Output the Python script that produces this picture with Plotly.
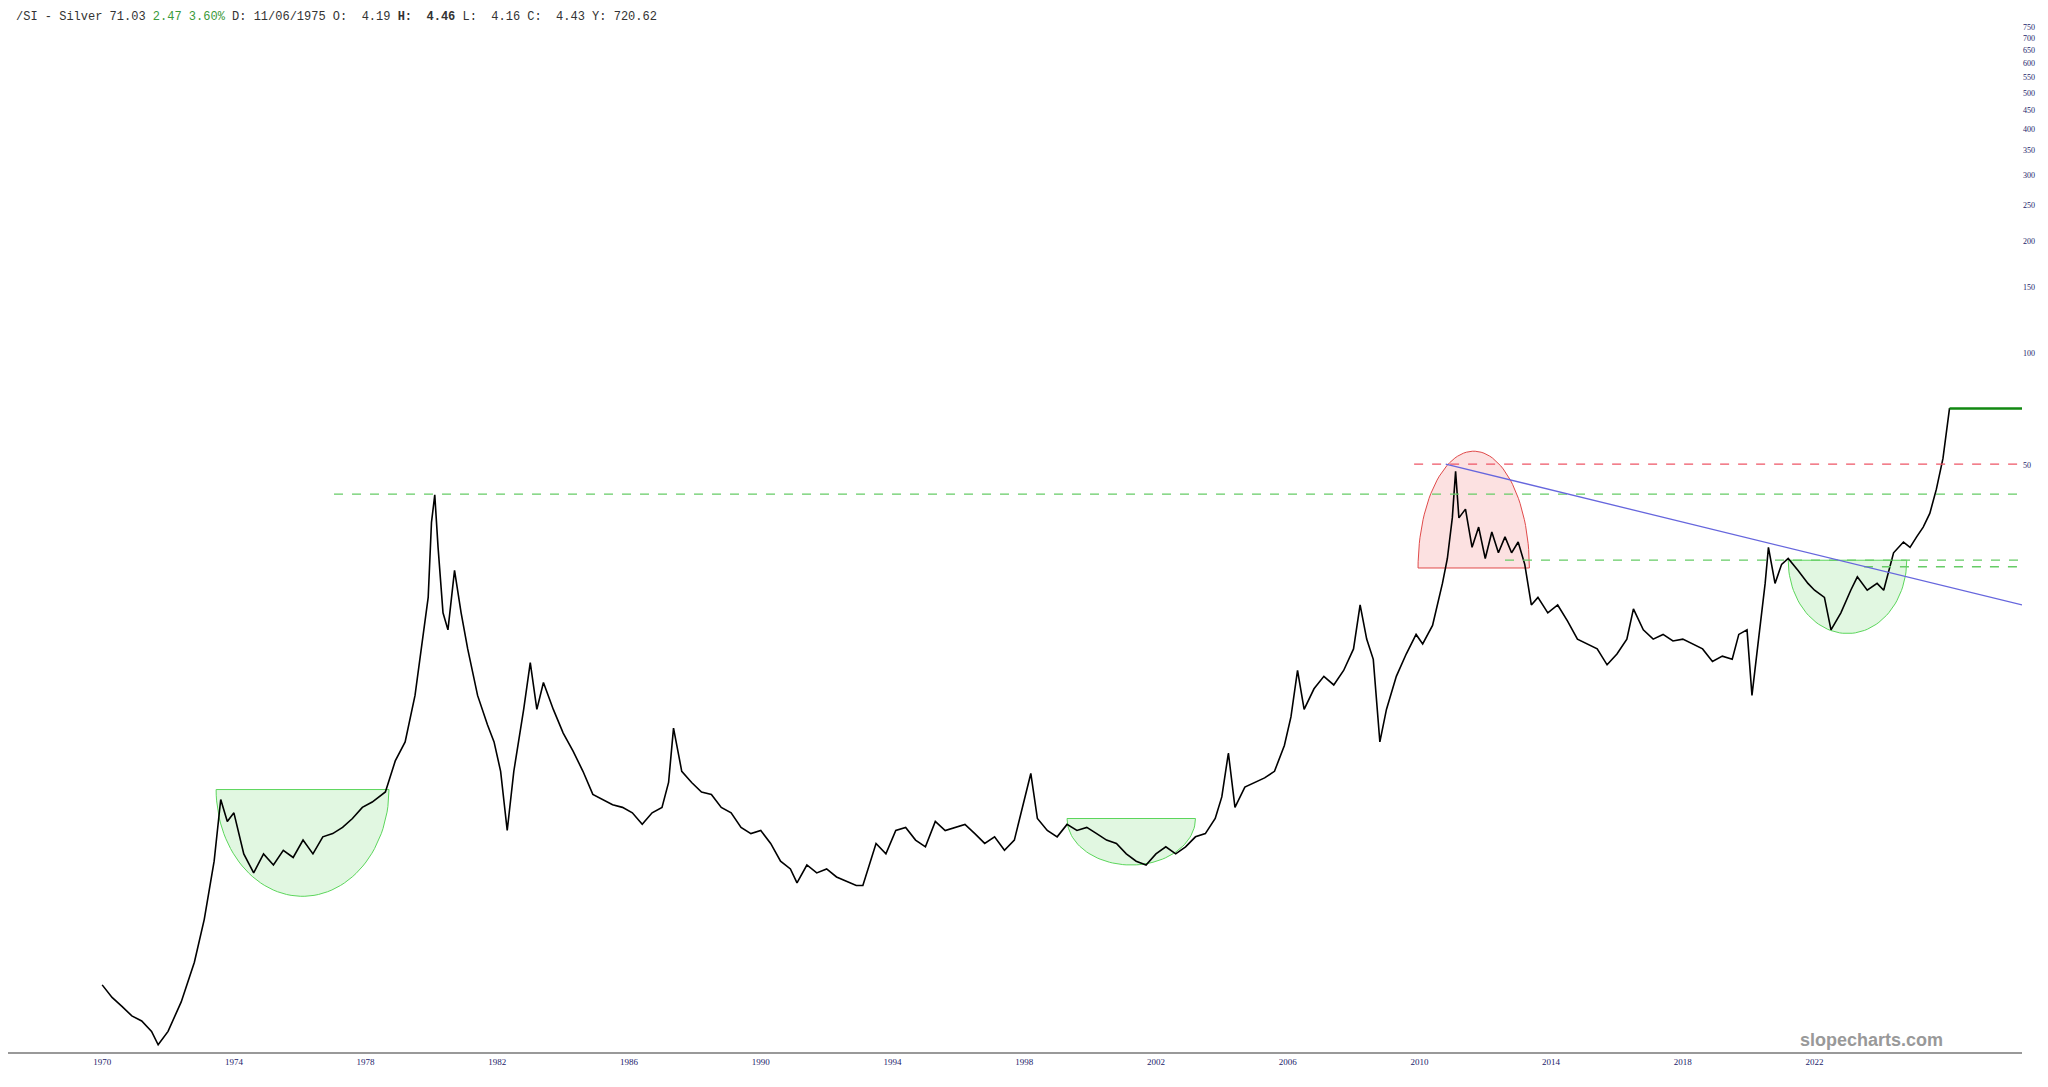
import numpy as np
import plotly.graph_objects as go

# chart-year positions and silver prices
years = [1970.0, 1970.3, 1970.6, 1970.9, 1971.2, 1971.5, 1971.7, 1972.0, 1972.4, 1972.8,
         1973.1, 1973.4, 1973.6, 1973.8, 1974.0, 1974.3, 1974.6, 1974.9, 1975.2, 1975.5,
         1975.8, 1976.1, 1976.4, 1976.7, 1977.0, 1977.3, 1977.6, 1977.9, 1978.2, 1978.6,
         1978.9, 1979.2, 1979.5, 1979.7, 1979.9, 1980.0, 1980.1, 1980.2, 1980.35, 1980.5,
         1980.7, 1980.9, 1981.1, 1981.4, 1981.7, 1981.9, 1982.1, 1982.3, 1982.5, 1982.8,
         1983.0, 1983.2, 1983.4, 1983.7, 1984.0, 1984.3, 1984.6, 1984.9, 1985.2, 1985.5,
         1985.8, 1986.1, 1986.4, 1986.7, 1987.0, 1987.2, 1987.35, 1987.6, 1987.9, 1988.2,
         1988.5, 1988.8, 1989.1, 1989.4, 1989.7, 1990.0, 1990.3, 1990.6, 1990.9, 1991.1,
         1991.4, 1991.7, 1992.0, 1992.3, 1992.6, 1992.9, 1993.1, 1993.3, 1993.5, 1993.8,
         1994.1, 1994.4, 1994.7, 1995.0, 1995.3, 1995.6, 1995.9, 1996.2, 1996.5, 1996.8,
         1997.1, 1997.4, 1997.7, 1998.0, 1998.2, 1998.4, 1998.7, 1999.0, 1999.3, 1999.6,
         1999.9, 2000.2, 2000.5, 2000.8, 2001.1, 2001.4, 2001.7, 2002.0, 2002.3, 2002.6,
         2002.9, 2003.2, 2003.5, 2003.8, 2004.0, 2004.2, 2004.4, 2004.7, 2005.0, 2005.3,
         2005.6, 2005.9, 2006.1, 2006.3, 2006.5, 2006.8, 2007.1, 2007.4, 2007.7, 2008.0,
         2008.2, 2008.4, 2008.6, 2008.8, 2009.0, 2009.3, 2009.6, 2009.9, 2010.1, 2010.4,
         2010.7, 2010.85, 2011.0, 2011.1, 2011.2, 2011.4, 2011.6, 2011.8, 2012.0, 2012.2,
         2012.4, 2012.6, 2012.8, 2013.0, 2013.2, 2013.4, 2013.6, 2013.9, 2014.2, 2014.5,
         2014.8, 2015.1, 2015.4, 2015.7, 2016.0, 2016.3, 2016.5, 2016.8, 2017.1, 2017.4,
         2017.7, 2018.0, 2018.3, 2018.6, 2018.9, 2019.2, 2019.5, 2019.7, 2019.95, 2020.1,
         2020.3, 2020.5, 2020.6, 2020.8, 2021.0, 2021.2, 2021.5, 2021.8, 2022.0, 2022.3,
         2022.5, 2022.8, 2023.1, 2023.3, 2023.6, 2023.9, 2024.1, 2024.4, 2024.7, 2024.9,
         2025.1, 2025.3, 2025.5, 2025.7, 2025.9, 2026.0, 2026.1]
prices = [2.0, 1.85, 1.75, 1.65, 1.6, 1.5, 1.38, 1.5, 1.8, 2.3,
          3.0, 4.3, 6.3, 5.5, 5.8, 4.5, 4.0, 4.5, 4.2, 4.6,
          4.4, 4.9, 4.5, 5.0, 5.1, 5.3, 5.6, 6.0, 6.2, 6.6,
          8.0, 9.0, 12, 16, 22, 35, 41.5, 30, 20, 18,
          26, 20, 16, 12, 10, 9, 7.5, 5.2, 7.5, 11,
          14.7, 11, 13, 11, 9.5, 8.5, 7.5, 6.5, 6.3, 6.1,
          6.0, 5.8, 5.4, 5.8, 6.0, 7.0, 9.8, 7.5, 7.0, 6.6,
          6.5, 6.0, 5.8, 5.3, 5.1, 5.2, 4.8, 4.3, 4.1, 3.76,
          4.2, 4.0, 4.1, 3.9, 3.8, 3.7, 3.7, 4.2, 4.8, 4.5,
          5.2, 5.3, 4.9, 4.7, 5.5, 5.2, 5.3, 5.4, 5.1, 4.8,
          5.0, 4.6, 4.9, 6.3, 7.4, 5.6, 5.2, 5.0, 5.4, 5.2,
          5.3, 5.1, 4.9, 4.8, 4.5, 4.3, 4.2, 4.5, 4.7, 4.5,
          4.7, 5.0, 5.1, 5.6, 6.4, 8.4, 6.0, 6.8, 7.0, 7.2,
          7.5, 8.8, 10.5, 14.0, 11.0, 12.5, 13.5, 12.8, 14.0, 16.0,
          21.0, 17.0, 15.0, 9.0, 11.0, 13.5, 15.5, 17.5, 16.5, 18.5,
          24, 28, 36, 48, 36, 38, 30, 34, 28, 33,
          29, 32, 29, 31, 27, 21, 22, 20, 21, 19,
          17, 16.5, 16, 14.5, 15.5, 17, 20.5, 18, 17, 17.5,
          16.8, 17, 16.5, 16, 14.8, 15.3, 15, 17.5, 18, 12,
          17, 24, 30, 24, 27, 28, 26, 24, 23, 22,
          18, 20, 23, 25, 23, 24, 23, 29, 31, 30,
          32, 34, 37, 43, 52, 62, 71]

year_ticks = [1970, 1974, 1978, 1982, 1986, 1990, 1994, 1998, 2002, 2006, 2010, 2014, 2018, 2022]
price_ticks = [50, 100, 150, 200, 250, 300, 350, 400, 450, 500, 550, 600, 650, 700, 750]

X_MIN, X_MAX = 1967.14, 2028.3


def half_ellipse(x0, x1, y_base, y_tip):
    # semi-ellipse in (year, log10 price) space, closed along its base
    t = np.linspace(0, np.pi, 60)
    xc, a = (x0 + x1) / 2, (x1 - x0) / 2
    lb, lt = np.log10(y_base), np.log10(y_tip)
    xs = xc + a * np.cos(t)
    ys = 10 ** (lb + (lt - lb) * np.sin(t))
    return list(xs) + [xs[0]], list(ys) + [ys[0]]


fig = go.Figure()

bowls = [(1973.46, 1978.71, 6.7, 3.46), (1999.3, 2003.2, 5.6, 4.2), (2021.2, 2024.8, 27.7, 17.6)]
for x0, x1, top, bottom in bowls:
    bx, by = half_ellipse(x0, x1, top, bottom)
    fig.add_trace(go.Scatter(x=bx, y=by, mode='lines', fill='toself',
                             fillcolor='rgba(120,220,120,0.22)',
                             line=dict(color='#5cd65c', width=1), hoverinfo='skip'))

dx, dy = half_ellipse(2009.96, 2013.34, 26.4, 54.4)
fig.add_trace(go.Scatter(x=dx, y=dy, mode='lines', fill='toself',
                         fillcolor='rgba(240,120,120,0.22)',
                         line=dict(color='#e04a4a', width=1), hoverinfo='skip'))

fig.add_trace(go.Scatter(x=years, y=prices, mode='lines',
                         line=dict(color='black', width=1.6)))

# horizontal levels and trendline
levels = [(1977.04, 41.7, '#66cc66', 'dash', 1.3), (2009.84, 50.2, '#ee5566', 'dash', 1.3),
          (2012.6, 27.7, '#66cc66', 'dash', 1.3), (2023.5, 26.6, '#66cc66', 'dash', 1.3),
          (2026.1, 70.8, '#118811', 'solid', 2.5)]
for x0, lvl, col, dash, w in levels:
    fig.add_trace(go.Scatter(x=[x0, X_MAX], y=[lvl, lvl], mode='lines',
                             line=dict(color=col, dash=dash, width=w), hoverinfo='skip'))
fig.add_trace(go.Scatter(x=[2010.8, X_MAX], y=[50.2, 21.0], mode='lines',
                         line=dict(color='#6666dd', width=1.3), hoverinfo='skip'))

header = ("/SI - Silver 71.03 <span style='color:#3a9a3a'>2.47 3.60%</span> D: 11/06/1975 "
          "O:  4.19 <b>H:  4.46</b> L:  4.16 C:  4.43 Y: 720.62")
fig.add_annotation(text=header, xref='paper', yref='paper', x=0.003, y=1.0,
                   xanchor='left', yanchor='top', showarrow=False,
                   font=dict(family='Liberation Mono', size=12, color='#333'))
fig.add_annotation(text='<b>slopecharts.com</b>', xref='paper', yref='paper', x=0.962, y=0.0,
                   xanchor='right', yanchor='bottom', showarrow=False,
                   font=dict(family='Liberation Sans', size=18, color='#999'))

fig.update_layout(
    width=2048, height=1087, showlegend=False,
    plot_bgcolor='white', paper_bgcolor='white',
    margin=dict(l=0, r=34, t=0, b=43),
    xaxis=dict(range=[X_MIN, X_MAX], tickvals=year_ticks, ticktext=[str(y) for y in year_ticks],
               showgrid=False, zeroline=False, showline=True, linecolor='#999', linewidth=2,
               automargin=False,
               tickfont=dict(family='Liberation Serif', size=9, color='#22226a')),
    yaxis=dict(type='log', range=[np.log10(1.32), np.log10(845)], side='right',
               tickvals=price_ticks, ticktext=[str(p) for p in price_ticks],
               showgrid=False, zeroline=False, automargin=False, ticklen=4, tickcolor='white',
               tickfont=dict(family='Liberation Serif', size=8, color='#22226a')),
)

fig.write_html("out.html")
